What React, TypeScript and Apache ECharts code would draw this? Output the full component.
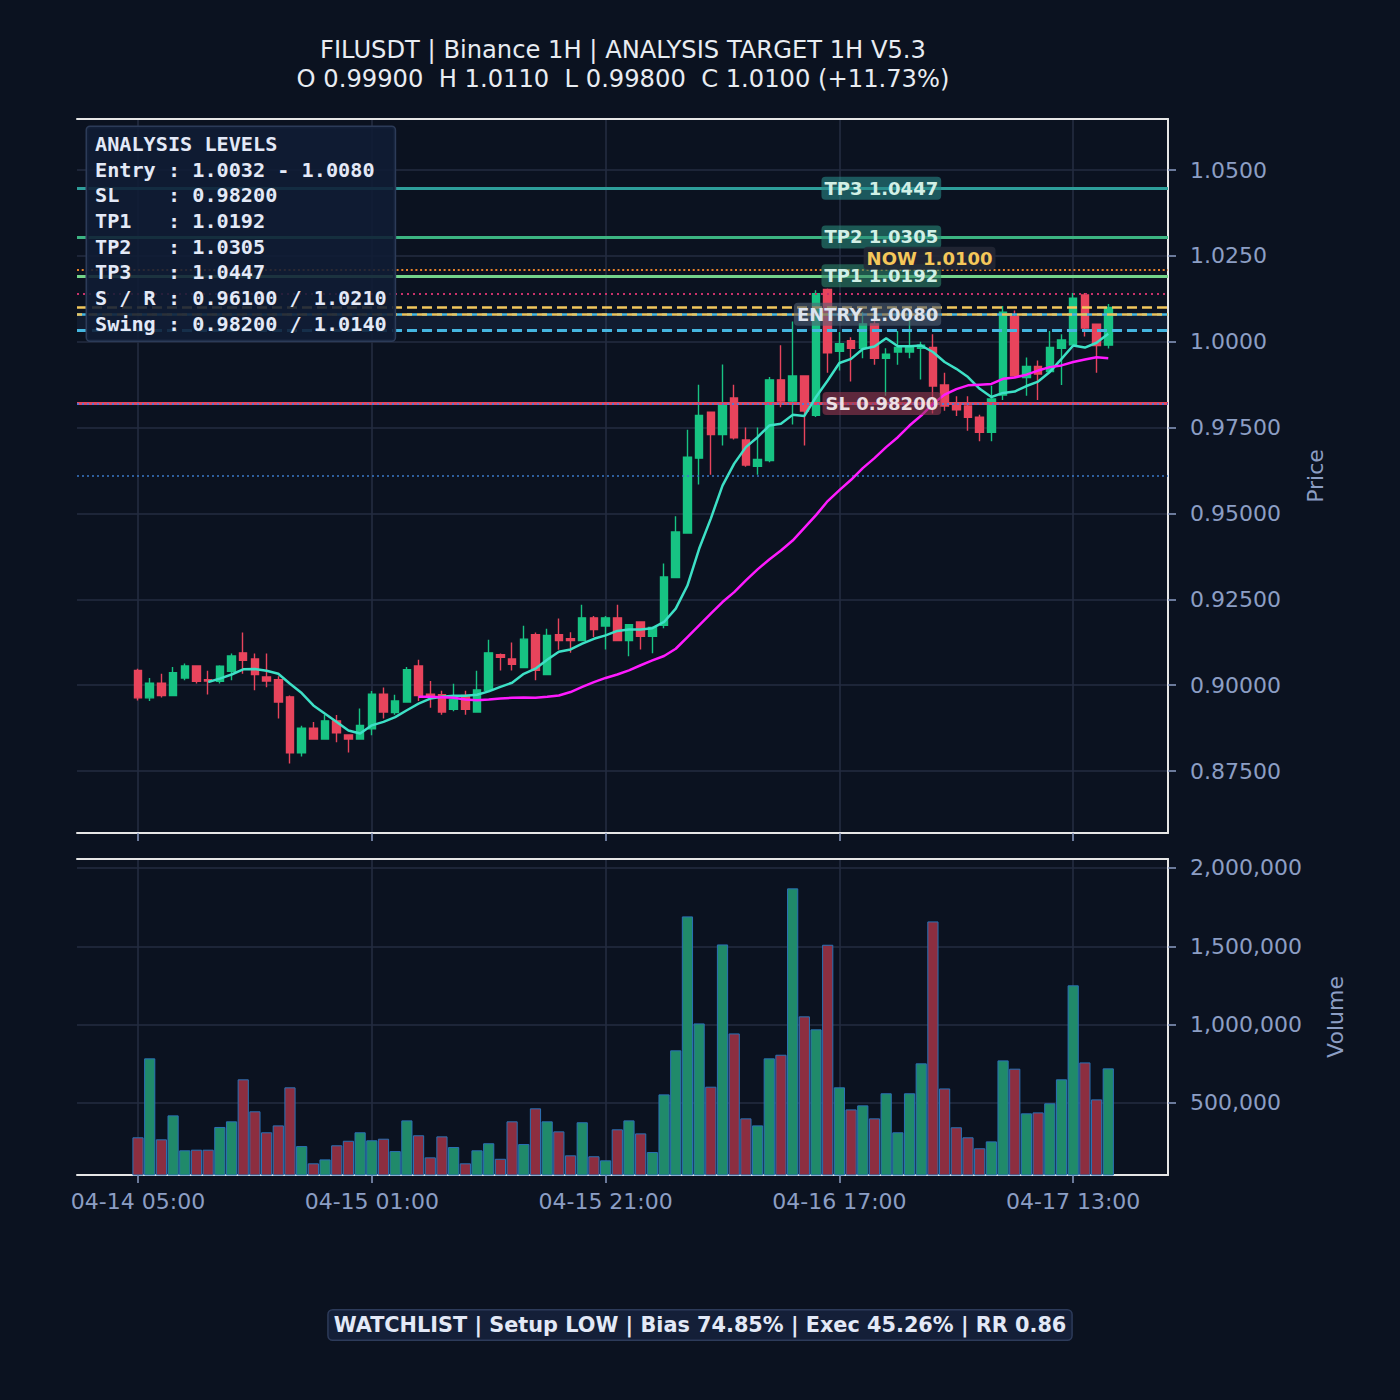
import React, { useEffect, useRef } from "react";
import * as echarts from "echarts";

// ---------- data ----------
const tickIdx = [0, 20, 40, 60, 80];
const tickLabels = ["04-14 05:00", "04-15 01:00", "04-15 21:00", "04-16 17:00", "04-17 13:00"];

const opens = [
  0.9043, 0.8963, 0.9006, 0.8970, 0.9021, 0.9056, 0.9016, 0.9011, 0.9040, 0.9094,
  0.9076, 0.9024, 0.9016, 0.8966, 0.8803, 0.8875, 0.8843, 0.8896, 0.8855, 0.8843,
  0.8873, 0.8974, 0.8920, 0.8951, 0.9056, 0.8974, 0.8972, 0.8930, 0.8970, 0.8922,
  0.8985, 0.9089, 0.9076, 0.9051, 0.9147, 0.9031, 0.9147, 0.9135, 0.9130, 0.9196,
  0.9172, 0.9196, 0.9130, 0.9184, 0.9142, 0.9174, 0.9313, 0.9443, 0.9661, 0.9795,
  0.9730, 0.9836, 0.9714, 0.9637, 0.9654, 0.9889, 0.9827, 0.9900, 0.9786, 1.0152,
  0.9972, 1.0003, 0.9981, 1.0052, 0.9952, 0.9970, 0.9970, 0.9981, 0.9983, 0.9874,
  0.9817, 0.9813, 0.9780, 0.9736, 0.9845, 1.0074, 0.9896, 0.9928, 0.9913, 0.9981,
  0.9991, 1.0136, 1.0051, 0.9990,
];
const closes = [
  0.8963, 0.9006, 0.8970, 0.9036, 0.9056, 0.9011, 0.9012, 0.9055, 0.9085, 0.9072,
  0.9031, 0.9012, 0.8951, 0.8803, 0.8875, 0.8843, 0.8896, 0.8861, 0.8843, 0.8883,
  0.8974, 0.8922, 0.8954, 0.9045, 0.8970, 0.8966, 0.8922, 0.8958, 0.8930, 0.8986,
  0.9094, 0.9081, 0.9061, 0.9134, 0.9043, 0.9145, 0.9130, 0.9130, 0.9196, 0.9162,
  0.9196, 0.9130, 0.9176, 0.9142, 0.9168, 0.9315, 0.9446, 0.9664, 0.9785, 0.9730,
  0.9816, 0.9720, 0.9641, 0.9657, 0.9889, 0.9827, 0.9900, 0.9798, 1.0140, 0.9968,
  0.9994, 0.9981, 1.0052, 0.9952, 0.9964, 0.9983, 0.9983, 0.9990, 0.9871, 0.9813,
  0.9802, 0.9780, 0.9736, 0.9833, 1.0086, 0.9901, 0.9928, 0.9906, 0.9983, 1.0005,
  1.0127, 1.0040, 0.9989, 1.0100,
];
const lows = [
  0.8955, 0.8954, 0.8964, 0.8968, 0.9014, 0.9005, 0.8973, 0.9005, 0.9014, 0.9033,
  0.8985, 0.8994, 0.8903, 0.8772, 0.8792, 0.8841, 0.8841, 0.8834, 0.8804, 0.8841,
  0.8854, 0.8903, 0.8914, 0.8951, 0.8954, 0.8934, 0.8914, 0.8924, 0.8914, 0.8922,
  0.8985, 0.9043, 0.9043, 0.9051, 0.9014, 0.9031, 0.9103, 0.9094, 0.9130, 0.9140,
  0.9104, 0.9130, 0.9084, 0.9104, 0.9093, 0.9166, 0.9313, 0.9443, 0.9584, 0.9613,
  0.9698, 0.9715, 0.9636, 0.9613, 0.9649, 0.9809, 0.9759, 0.9698, 0.9781, 0.9910,
  0.9916, 0.9884, 0.9952, 0.9933, 0.9843, 0.9933, 0.9952, 0.9890, 0.9791, 0.9799,
  0.9784, 0.9741, 0.9710, 0.9710, 0.9830, 0.9896, 0.9843, 0.9830, 0.9913, 0.9874,
  0.9991, 1.0015, 0.9910, 0.9980,
];
const highs = [
  0.9048, 0.9021, 0.9033, 0.9053, 0.9063, 0.9058, 0.9042, 0.9058, 0.9092, 0.9153,
  0.9092, 0.9092, 0.9026, 0.8970, 0.8882, 0.8893, 0.8913, 0.8913, 0.8855, 0.8932,
  0.8983, 0.8993, 0.8972, 0.9053, 0.9074, 0.9012, 0.8984, 0.9004, 0.8984, 0.9042,
  0.9132, 0.9092, 0.9124, 0.9173, 0.9153, 0.9164, 0.9194, 0.9154, 0.9234, 0.9201,
  0.9201, 0.9234, 0.9176, 0.9184, 0.9170, 0.9354, 0.9492, 0.9744, 0.9875, 0.9795,
  0.9934, 0.9875, 0.9750, 0.9750, 0.9897, 0.9990, 1.0059, 0.9900, 1.0150, 1.0155,
  1.0028, 1.0013, 1.0086, 1.0066, 0.9981, 1.0031, 1.0070, 1.0000, 1.0022, 0.9910,
  0.9841, 0.9841, 0.9787, 0.9872, 1.0104, 1.0091, 0.9954, 0.9945, 1.0031, 1.0022,
  1.0142, 1.0142, 1.0051, 1.0110,
];
const volumes = [
  281000, 785000, 268000, 421000, 198000, 202000, 202000, 347000, 383000, 651000,
  447000, 313000, 357000, 600000, 225000, 115000, 140000, 230000, 259000, 313000,
  262000, 272000, 193000, 389000, 294000, 153000, 287000, 219000, 115000, 198000,
  243000, 144000, 383000, 238000, 466000, 383000, 319000, 166000, 377000, 160000,
  134000, 332000, 389000, 306000, 187000, 555000, 836000, 1691000, 1008000, 604000,
  1512000, 944000, 402000, 357000, 785000, 808000, 1870000, 1053000, 970000, 1510000,
  600000, 459000, 485000, 402000, 562000, 313000, 562000, 753000, 1659000, 593000,
  345000, 281000, 211000, 255000, 772000, 719000, 434000, 440000, 498000, 651000,
  1251000, 759000, 523000, 721000,
];

const maFastStart = 6;
const maFast = [
  0.9009, 0.9019, 0.9031, 0.9046, 0.9047, 0.9042, 0.9033, 0.9004, 0.8977, 0.8941,
  0.8917, 0.8893, 0.8868, 0.8859, 0.8883, 0.8893, 0.8907, 0.8927, 0.8946, 0.8961,
  0.8966, 0.8969, 0.8969, 0.8972, 0.8982, 0.8995, 0.9007, 0.9033, 0.9048, 0.9074,
  0.9097, 0.9104, 0.9121, 0.9135, 0.9145, 0.9158, 0.9162, 0.9162, 0.9166, 0.9184,
  0.9223, 0.9290, 0.9397, 0.9485, 0.9581, 0.9645, 0.9693, 0.9722, 0.9756, 0.9761,
  0.9787, 0.9784, 0.9839, 0.9887, 0.9938, 0.9950, 0.9979, 0.9986, 1.0010, 0.9987,
  0.9987, 0.9989, 0.9970, 0.9941, 0.9921, 0.9897, 0.9863, 0.9839, 0.9851, 0.9855,
  0.9871, 0.9884, 0.9912, 0.9950, 0.9989, 0.9983, 0.9997, 1.0023,
];
const maSlowStart = 24;
const maSlow = [
  0.8966, 0.8966, 0.8965, 0.8963, 0.8958, 0.8956, 0.8958,
  0.8961, 0.8963, 0.8964, 0.8963, 0.8966, 0.8970, 0.8980, 0.8995, 0.9009, 0.9021,
  0.9031, 0.9043, 0.9058, 0.9072, 0.9085, 0.9106, 0.9140, 0.9174, 0.9208, 0.9242,
  0.9271, 0.9305, 0.9337, 0.9366, 0.9392, 0.9421, 0.9458, 0.9495, 0.9536, 0.9568,
  0.9598, 0.9632, 0.9661, 0.9693, 0.9722, 0.9756, 0.9785, 0.9819, 0.9846, 0.9862,
  0.9873, 0.9875, 0.9877, 0.9892, 0.9896, 0.9904, 0.9916, 0.9926, 0.9931, 0.9941,
  0.9948, 0.9955, 0.9952,
];

const priceTicks = [0.875, 0.9, 0.925, 0.95, 0.975, 1.0, 1.025, 1.05];
const volumeTicks = [500000, 1000000, 1500000, 2000000];

// analysis levels
const entryLow = 1.0032;
const entryHigh = 1.008;
const stopLoss = 0.982;
const tp1 = 1.0192;
const tp2 = 1.0305;
const tp3 = 1.0447;
const support = 0.961;
const resistance = 1.021;
const swingLow = 0.982;
const swingHigh = 1.014;
const nowPrice = 1.01;

const symbolName = "FILUSDT";
const exchange = "Binance";
const changePct = "+11.73%";
const footerText = "WATCHLIST | Setup LOW | Bias 74.85% | Exec 45.26% | RR 0.86";

// ---------- styling ----------
const BG = "#0b1220";
const GRID = "#242c40";
const SPINE = "#e6e6e6";
const TICK = "#8c9ec4";
const UP = "#17c383";
const DOWN = "#e8445c";
const VUP = "#208a6a";
const VDOWN = "#8c2e40";
const FONT = "DejaVu Sans";
const MONO = "DejaVu Sans Mono";

const fmt = (p: number) => p.toPrecision(5);

export default function App() {
  const ref = useRef<HTMLDivElement>(null);

  useEffect(() => {
    if (!ref.current) return;
    const chart = echarts.init(ref.current, null, { renderer: "svg" });

    const xMin = -5.22;
    const xMax = 88.11;
    const tagX = 68.75;
    const nowTagX = 73.4;

    const candleData = opens.map((o, i) => [i, o, closes[i], lows[i], highs[i]]);
    const volData = volumes.map((v, i) => ({
      value: [i, v],
      itemStyle: { color: closes[i] >= opens[i] ? VUP : VDOWN },
    }));
    const fastData = maFast.map((v, k) => [k + maFastStart, v]);
    const slowData = maSlow.map((v, k) => [k + maSlowStart, v]);

    const lvl = (y: number, color: string, width: number, type: any, dashOffset = 0) => ({
      yAxis: y,
      lineStyle: { color, width, type, dashOffset, opacity: 1 },
    });

    const tag = (
      name: string,
      price: number,
      x: number,
      bg: string,
      fg: string,
      offset: number[] = [0, 0]
    ) => ({
      coord: [x, price],
      symbol: "rect",
      symbolSize: 1,
      itemStyle: { color: "rgba(0,0,0,0)" },
      label: {
        show: true,
        position: "left",
        distance: 0,
        formatter: `${name} ${fmt(price)}`,
        color: fg,
        backgroundColor: bg,
        padding: [2, 3, 2, 3],
        borderRadius: 4,
        fontFamily: FONT,
        fontWeight: "bold",
        fontSize: 18,
        lineHeight: 19,
        offset,
      },
    });

    const xAxisBase = (gridIndex: number, showLabel: boolean) => ({
      type: "value",
      gridIndex,
      min: xMin,
      max: xMax,
      position: "bottom",
      axisLine: { show: true, onZero: false, lineStyle: { color: SPINE, width: 2 } },
      axisTick: { show: true, length: 8, customValues: tickIdx, lineStyle: { color: TICK, width: 1.5 } },
      axisLabel: {
        show: showLabel,
        customValues: tickIdx,
        margin: 15,
        color: TICK,
        fontSize: 22,
        fontFamily: FONT,
        formatter: (v: number) => tickLabels[tickIdx.indexOf(Math.round(v))] ?? "",
      },
      splitLine: { show: true, lineStyle: { color: GRID, width: 1.6 } },
    });
    const xAxisTop = (gridIndex: number) => ({
      type: "value",
      gridIndex,
      min: xMin,
      max: xMax,
      position: "top",
      axisLine: { show: true, onZero: false, lineStyle: { color: SPINE, width: 2 } },
      axisTick: { show: false },
      axisLabel: { show: false },
      splitLine: { show: false },
    });

    const option: any = {
      animation: false,
      backgroundColor: BG,
      grid: [
        { left: 77, top: 119, width: 1091, height: 714 },
        { left: 77, top: 859, width: 1091, height: 316 },
      ],
      xAxis: [xAxisBase(0, false), xAxisBase(1, true), xAxisTop(0), xAxisTop(1)],
      yAxis: [
        {
          type: "value",
          gridIndex: 0,
          position: "right",
          min: 0.85695,
          max: 1.06485,
          name: "Price",
          nameLocation: "middle",
          nameRotate: 90,
          nameGap: 136,
          nameTextStyle: { color: TICK, fontSize: 22, fontFamily: FONT },
          axisLine: { show: true, onZero: false, lineStyle: { color: SPINE, width: 2 } },
          axisTick: { show: true, length: 8, customValues: priceTicks, lineStyle: { color: TICK, width: 1.5 } },
          axisLabel: {
            customValues: priceTicks,
            margin: 22,
            color: TICK,
            fontSize: 22,
            fontFamily: FONT,
            formatter: (v: number) => fmt(v),
          },
          splitLine: { show: true, lineStyle: { color: GRID, width: 1.6 } },
        },
        {
          type: "value",
          gridIndex: 1,
          position: "right",
          min: 40400,
          max: 2057400,
          name: "Volume",
          nameLocation: "middle",
          nameRotate: 90,
          nameGap: 156,
          nameTextStyle: { color: TICK, fontSize: 22, fontFamily: FONT },
          axisLine: { show: true, onZero: false, lineStyle: { color: SPINE, width: 2 } },
          axisTick: { show: true, length: 8, customValues: volumeTicks, lineStyle: { color: TICK, width: 1.5 } },
          axisLabel: {
            customValues: volumeTicks,
            margin: 22,
            color: TICK,
            fontSize: 22,
            fontFamily: FONT,
            formatter: (v: number) => Math.round(v).toLocaleString("en-US"),
          },
          splitLine: { show: true, lineStyle: { color: GRID, width: 1.6 } },
        },
      ],
      series: [
        {
          type: "candlestick",
          xAxisIndex: 0,
          yAxisIndex: 0,
          data: candleData,
          barWidth: 8,
          z: 2,
          itemStyle: {
            color: UP,
            color0: DOWN,
            borderColor: UP,
            borderColor0: DOWN,
            borderWidth: 1.4,
          },
          markArea: {
            silent: true,
            z: 1,
            itemStyle: { color: "rgba(60,100,160,0.13)" },
            data: [[{ yAxis: entryLow }, { yAxis: entryHigh }]],
          },
          markLine: {
            silent: true,
            z: 3,
            precision: 8,
            symbol: ["none", "none"],
            label: { show: false },
            emphasis: { disabled: true },
            data: [
              lvl(tp3, "#2e9e9a", 3, "solid"),
              lvl(tp2, "#3cb482", 3, "solid"),
              lvl(resistance, "#e8822a", 2, [2, 2.7]),
              lvl(tp1, "#74d48a", 3, "solid"),
              lvl(swingHigh, "#c8326a", 2, [2, 4]),
              lvl(nowPrice, "#f2c75c", 2.6, [10, 5]),
              lvl(entryHigh, "#45b6e0", 2.6, [10, 5]),
              lvl(entryHigh, "#e9c25e", 2.6, [10, 5], 5),
              lvl(entryLow, "#45b6e0", 3, [10, 5]),
              lvl(stopLoss, "#e0475f", 3, "solid"),
              lvl(swingLow, "#5a72d6", 2, [2, 3]),
              lvl(support, "#3a78c8", 1.6, [2, 3]),
            ],
          },
          markPoint: {
            silent: true,
            z: 10,
            data: [
              tag("TP3", tp3, tagX, "rgba(40,135,135,0.6)", "#d2f0e6"),
              tag("TP2", tp2, tagX, "rgba(40,135,120,0.6)", "#d2f0e6"),
              tag("TP1", tp1, tagX, "rgba(45,130,105,0.6)", "#d2f0e6"),
              tag("NOW", nowPrice, nowTagX, "rgba(36,40,54,0.85)", "#f5c75a", [0, -49]),
              tag("ENTRY", entryHigh, tagX, "rgba(80,95,115,0.6)", "#dde3ee"),
              tag("SL", stopLoss, tagX, "rgba(150,55,80,0.6)", "#ece0e4"),
            ],
          },
        },
        {
          type: "line",
          xAxisIndex: 0,
          yAxisIndex: 0,
          data: fastData,
          showSymbol: false,
          z: 4,
          lineStyle: { color: "#3de0c6", width: 2.5 },
          silent: true,
        },
        {
          type: "line",
          xAxisIndex: 0,
          yAxisIndex: 0,
          data: slowData,
          showSymbol: false,
          z: 4,
          lineStyle: { color: "#ff1aff", width: 2.5 },
          silent: true,
        },
        {
          type: "bar",
          xAxisIndex: 1,
          yAxisIndex: 1,
          data: volData,
          barWidth: 11.2,
          itemStyle: { borderColor: "#2a72b5", borderWidth: 1 },
          silent: true,
        },
      ],
      graphic: [
        {
          type: "text",
          x: 623,
          y: 50,
          z: 100,
          style: {
            text: `${symbolName} | ${exchange} 1H | ANALYSIS TARGET 1H V5.3`,
            font: `24.2px '${FONT}'`,
            fill: "#e8ecf2",
            textAlign: "center",
            textVerticalAlign: "middle",
          },
        },
        {
          type: "text",
          x: 623,
          y: 79,
          z: 100,
          style: {
            text: `O ${fmt(opens[83])}  H ${fmt(highs[83])}  L ${fmt(lows[83])}  C ${fmt(closes[83])} (${changePct})`,
            font: `24.2px '${FONT}'`,
            fill: "#e8ecf2",
            textAlign: "center",
            textVerticalAlign: "middle",
          },
        },
        {
          type: "text",
          x: 87,
          y: 127,
          z: 100,
          style: {
            text: [
              "ANALYSIS LEVELS",
              `Entry : ${fmt(entryLow)} - ${fmt(entryHigh)}`,
              `SL    : ${fmt(stopLoss)}`,
              `TP1   : ${fmt(tp1)}`,
              `TP2   : ${fmt(tp2)}`,
              `TP3   : ${fmt(tp3)}`,
              `S / R : ${fmt(support)} / ${fmt(resistance)}`,
              `Swing : ${fmt(swingLow)} / ${fmt(swingHigh)}`,
            ].join("\n"),
            font: `bold 20.2px '${MONO}'`,
            lineHeight: 25.7,
            fill: "#e3e9f7",
            textAlign: "left",
            textVerticalAlign: "top",
            backgroundColor: "rgba(16,28,52,0.88)",
            borderColor: "#2c3b58",
            borderWidth: 1.5,
            borderRadius: 3,
            padding: [4, 8, 4, 8],
          },
        },
        {
          type: "text",
          x: 700,
          y: 1325,
          z: 100,
          style: {
            text: footerText,
            font: `bold 20.8px '${FONT}'`,
            fill: "#e3e9f7",
            textAlign: "center",
            textVerticalAlign: "middle",
            backgroundColor: "#141f38",
            borderColor: "#2d3b5a",
            borderWidth: 1.5,
            borderRadius: 4,
            padding: [4, 5, 4, 5],
          },
        },
      ],
    };

    chart.setOption(option);
    return () => chart.dispose();
  }, []);

  return (
    <div
      ref={ref}
      style={{ position: "fixed", left: 0, top: 0, width: 1400, height: 1400, background: BG }}
    />
  );
}
